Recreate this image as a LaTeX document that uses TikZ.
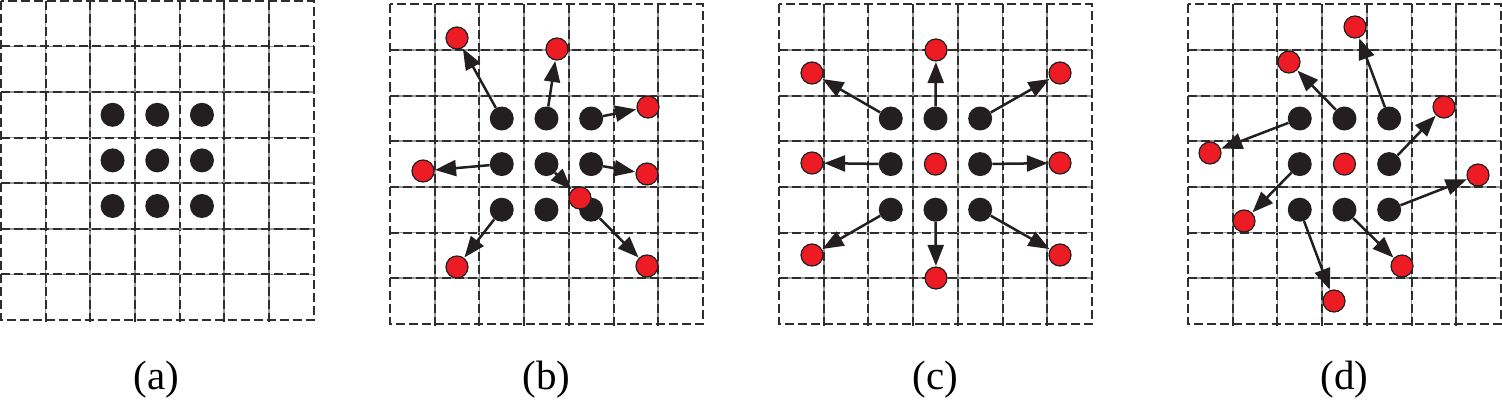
\documentclass[tikz,border=0pt]{standalone}
\usepackage{fontspec}
\setmainfont{Liberation Serif}
\usetikzlibrary{arrows.meta}
\definecolor{dotblack}{HTML}{231F20}
\definecolor{dotred}{HTML}{ED1C24}
\definecolor{gridline}{HTML}{2E2E2E}
\tikzset{
  gridbg/.style={line width=1.7pt, draw=black!40},
  gridfg/.style={line width=2pt, draw=gridline, dash pattern=on 9pt off 4pt},
  bdot/.style={circle, fill=dotblack, inner sep=0pt, minimum size=24pt},
  rdot/.style={circle, fill=dotred, draw=dotblack, line width=1.2pt, inner sep=0pt, minimum size=22pt},
  arr/.style={line width=2.5pt, draw=dotblack, -{Triangle[length=21pt,width=16pt]}, shorten >=0.5pt},
  lab/.style={font=\fontsize{41}{47}\selectfont, inner sep=0pt}
}
\newcommand{\gridpanel}[2]{%
  \foreach \i in {1,...,6}{%
    \draw[gridbg] ({#1+\i*44.7},{#2}) -- ({#1+\i*44.7},{#2+321.5});
    \draw[gridfg] ({#1+\i*44.7},{#2}) -- ({#1+\i*44.7},{#2+321.5});
    \draw[gridbg] ({#1},{#2+\i*45.6}) -- ({#1+313},{#2+\i*45.6});
    \draw[gridfg] ({#1},{#2+\i*45.6}) -- ({#1+313},{#2+\i*45.6});
  }
  \draw[gridfg] (#1,#2) rectangle ({#1+313},{#2+319.2});
}
\begin{document}
\begin{tikzpicture}[x=1pt,y=-1pt]
\useasboundingbox (0,0) rectangle (1502,404);
\fill[white] (0,0) rectangle (1502,404);

% ---- grids
\gridpanel{0.8}{0.8}
\gridpanel{390}{4.5}
\gridpanel{779}{4.5}
\gridpanel{1188}{4.5}

% ---- panel (a)
\foreach \r in {1,2,3}{\foreach \c in {1,2,3}{%
  \node[bdot] (a\r\c) at ({0.8+(1.5+\c)*44.7},{0.8+(1.5+\r)*45.6}) {};}}

% ---- panel (b)
\foreach \r in {1,2,3}{\foreach \c in {1,2,3}{%
  \node[bdot] (b\r\c) at ({390+(1.5+\c)*44.7},{4.5+(1.5+\r)*45.6}) {};}}
\node[rdot] (br1) at (457,38) {};
\node[rdot] (br2) at (557,49) {};
\node[rdot] (br3) at (648,107) {};
\node[rdot] (br4) at (423,171) {};
\node[rdot] (br5) at (647,174) {};
\node[rdot] (br6) at (580,198) {};
\node[rdot] (br7) at (457,267) {};
\node[rdot] (br8) at (647,266) {};
\draw[arr] (b11) -- (br1);
\draw[arr] (b12) -- (br2);
\draw[arr] (b13) -- (br3);
\draw[arr] (b21) -- (br4);
\draw[arr] (b23) -- (br5);
\draw[arr] (b22) -- (br6);
\draw[arr] (b31) -- (br7);
\draw[arr] (b33) -- (br8);

% ---- panel (c)
\foreach \r/\c in {1/1,1/2,1/3,2/1,2/3,3/1,3/2,3/3}{%
  \node[bdot] (c\r\c) at ({779+(1.5+\c)*44.7},{4.5+(1.5+\r)*45.6}) {};}
\node[rdot] (cc) at ({779+3.5*44.7},{4.5+3.5*45.6}) {};
\node[rdot] (cr1) at (812,73) {};
\node[rdot] (cr2) at (936,50) {};
\node[rdot] (cr3) at (1060,73) {};
\node[rdot] (cr4) at (812,163) {};
\node[rdot] (cr5) at (1060,163) {};
\node[rdot] (cr6) at (812,255) {};
\node[rdot] (cr7) at (936,278) {};
\node[rdot] (cr8) at (1060,255) {};
\draw[arr] (c11) -- (cr1);
\draw[arr] (c12) -- (cr2);
\draw[arr] (c13) -- (cr3);
\draw[arr] (c21) -- (cr4);
\draw[arr] (c23) -- (cr5);
\draw[arr] (c31) -- (cr6);
\draw[arr] (c32) -- (cr7);
\draw[arr] (c33) -- (cr8);

% ---- panel (d)
\foreach \r/\c in {1/1,1/2,1/3,2/1,2/3,3/1,3/2,3/3}{%
  \node[bdot] (d\r\c) at ({1188+(1.5+\c)*44.7},{4.5+(1.5+\r)*45.6}) {};}
\node[rdot] (dc) at ({1188+3.5*44.7},{4.5+3.5*45.6}) {};
\node[rdot] (dr1) at (1355,27) {};
\node[rdot] (dr2) at (1289,62) {};
\node[rdot] (dr3) at (1444,107) {};
\node[rdot] (dr4) at (1210,153) {};
\node[rdot] (dr5) at (1478,175) {};
\node[rdot] (dr6) at (1244,221) {};
\node[rdot] (dr7) at (1402,266) {};
\node[rdot] (dr8) at (1334,301) {};
\draw[arr] (d13) -- (dr1);
\draw[arr] (d12) -- (dr2);
\draw[arr] (d23) -- (dr3);
\draw[arr] (d11) -- (dr4);
\draw[arr] (d33) -- (dr5);
\draw[arr] (d21) -- (dr6);
\draw[arr] (d32) -- (dr7);
\draw[arr] (d31) -- (dr8);

% ---- labels
\node[lab] (la) at (156.5,380) {(a)};
\node[lab] (lb) at (546.5,380) {(b)};
\node[lab] (lc) at (935.5,380) {(c)};
\node[lab] (ld) at (1344.5,380) {(d)};
\end{tikzpicture}
\end{document}
